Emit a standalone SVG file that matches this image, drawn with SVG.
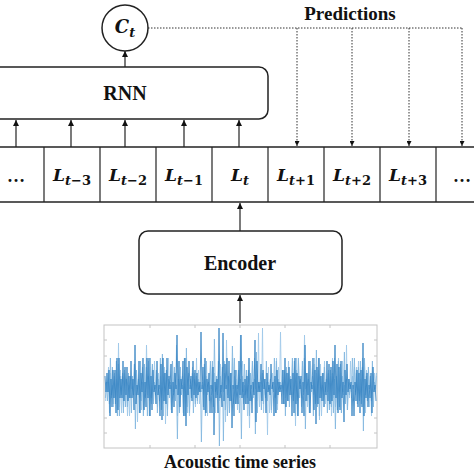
<svg xmlns="http://www.w3.org/2000/svg" width="474" height="474" viewBox="0 0 474 474">
<style>
.box{fill:#fff;stroke:#222;stroke-width:1.5}
.ln{stroke:#222;stroke-width:1.2;fill:none}
.dot{stroke:#333;stroke-width:1;stroke-dasharray:1.5 1.5;fill:none}
.lbl{font-family:"Liberation Serif",serif;font-weight:bold;fill:#111}
.math{font-family:"DejaVu Serif",serif;font-weight:bold;font-style:italic;fill:#111;font-size:17px}
.sub{font-size:13px}
.up{font-style:normal}
</style>
<defs>
<marker id="ah" viewBox="0 0 10 10" refX="10" refY="5" markerWidth="5" markerHeight="5" orient="auto">
<path d="M0,0 L10,5 L0,10 z" fill="#111"/>
</marker>
<polyline id="wave" fill="none" stroke-linejoin="round" points="105,376 106,392 107,373 108,392 109,370 110,416 111,379 112,407 113,370 114,398 115,370 116,413 117,358 118,410 119,358 120,398 121,379 122,398 123,361 124,401 125,367 126,395 127,367 128,401 129,376 130,398 131,361 132,398 133,379 134,410 135,345 136,404 137,385 138,395 139,361 140,413 141,373 142,392 143,358 144,410 145,382 146,407 147,358 148,398 149,358 150,416 151,376 152,410 153,370 154,392 155,385 156,404 157,361 158,395 159,385 160,416 161,364 162,420 163,358 164,401 165,373 166,404 167,358 168,395 169,376 170,389 171,364 172,413 173,382 174,407 175,373 176,389 177,335 178,395 179,361 180,407 181,379 182,389 183,361 184,416 185,358 186,426 187,367 188,395 189,361 190,389 191,376 192,401 193,361 194,395 195,370 196,398 197,373 198,395 199,382 200,392 201,332 202,389 203,367 204,410 205,358 206,413 207,379 208,392 209,373 210,413 211,385 212,413 213,367 214,435 215,382 216,398 217,379 218,413 219,328 220,398 221,385 222,407 223,333 224,401 225,364 226,389 227,358 228,398 229,361 230,401 231,373 232,428 233,385 234,416 235,370 236,404 237,385 238,404 239,361 240,395 241,335 242,398 243,382 244,410 245,379 246,404 247,376 248,404 249,358 250,401 251,385 252,413 253,382 254,395 255,340 256,422 257,361 258,392 259,382 260,392 261,364 262,401 263,370 264,389 265,379 266,413 267,373 268,392 269,385 270,395 271,364 272,389 273,382 274,416 275,376 276,413 277,370 278,395 279,382 280,392 281,385 282,404 283,370 284,404 285,358 286,407 287,373 288,401 289,367 290,395 291,379 292,416 293,373 294,413 295,358 296,404 297,373 298,416 299,376 300,389 301,376 302,413 303,382 304,416 305,345 306,401 307,373 308,395 309,361 310,413 311,382 312,389 313,358 314,410 315,370 316,424 317,367 318,404 319,358 320,398 321,376 322,401 323,373 324,407 325,382 326,395 327,361 328,401 329,364 330,404 331,367 332,401 333,361 334,395 335,345 336,398 337,364 338,413 339,367 340,410 341,361 342,398 343,382 344,422 345,370 346,395 347,364 348,392 349,379 350,389 351,382 352,416 353,385 354,416 355,382 356,401 357,370 358,407 359,373 360,413 361,370 362,407 363,343 364,416 365,379 366,398 367,373 368,407 369,385 370,398 371,373 372,413 373,367 374,392 375,385 376,401"/>
</defs>
<rect width="474" height="474" fill="#fff"/>

<g id="connectors">
<line class="ln" x1="125" y1="67" x2="125" y2="51" marker-end="url(#ah)"/>
<line class="ln" x1="16" y1="147" x2="16" y2="120" marker-end="url(#ah)"/>
<line class="ln" x1="71" y1="147" x2="71" y2="120" marker-end="url(#ah)"/>
<line class="ln" x1="125" y1="147" x2="125" y2="120" marker-end="url(#ah)"/>
<line class="ln" x1="184" y1="147" x2="184" y2="120" marker-end="url(#ah)"/>
<line class="ln" x1="239" y1="147" x2="239" y2="120" marker-end="url(#ah)"/>
<line class="ln" x1="240" y1="231" x2="240" y2="203" marker-end="url(#ah)"/>
<line class="ln" x1="240" y1="323" x2="240" y2="295" marker-end="url(#ah)"/>
<path class="dot" d="M148,28 H462"/>
<line class="dot" x1="297" y1="28" x2="297" y2="146" marker-end="url(#ah)"/>
<line class="dot" x1="352" y1="28" x2="352" y2="146" marker-end="url(#ah)"/>
<line class="dot" x1="409" y1="28" x2="409" y2="146" marker-end="url(#ah)"/>
<line class="dot" x1="462" y1="28" x2="462" y2="146" marker-end="url(#ah)"/>
</g>

<g id="ct">
<circle cx="125" cy="28" r="23" class="box"/>
<text class="math" x="125" y="33" text-anchor="middle" style="font-size:18px">C<tspan class="sub" dy="4">t</tspan></text>
</g>

<g id="predictions">
<text class="lbl" x="350" y="20" font-size="19" text-anchor="middle">Predictions</text>
</g>

<g id="rnn">
<rect class="box" x="-20" y="67" width="288" height="52" rx="9"/>
<text class="lbl" x="125" y="100" font-size="20" text-anchor="middle">RNN</text>
</g>

<g id="sequence">
<line class="ln" x1="0" y1="147" x2="474" y2="147" style="stroke-width:1.5"/>
<line class="ln" x1="0" y1="202" x2="474" y2="202" style="stroke-width:1.5"/>
<line class="ln" x1="44" y1="147" x2="44" y2="202"/>
<line class="ln" x1="100" y1="147" x2="100" y2="202"/>
<line class="ln" x1="156" y1="147" x2="156" y2="202"/>
<line class="ln" x1="212" y1="147" x2="212" y2="202"/>
<line class="ln" x1="268" y1="147" x2="268" y2="202"/>
<line class="ln" x1="324" y1="147" x2="324" y2="202"/>
<line class="ln" x1="380" y1="147" x2="380" y2="202"/>
<line class="ln" x1="436" y1="147" x2="436" y2="202"/>
<text class="lbl" x="16" y="182" font-size="18" text-anchor="middle">…</text>
<text class="math" x="72" y="181" text-anchor="middle">L<tspan class="sub" dy="4">t<tspan class="up">−3</tspan></tspan></text>
<text class="math" x="128" y="181" text-anchor="middle">L<tspan class="sub" dy="4">t<tspan class="up">−2</tspan></tspan></text>
<text class="math" x="184" y="181" text-anchor="middle">L<tspan class="sub" dy="4">t<tspan class="up">−1</tspan></tspan></text>
<text class="math" x="240" y="181" text-anchor="middle">L<tspan class="sub" dy="4">t</tspan></text>
<text class="math" x="296" y="181" text-anchor="middle">L<tspan class="sub" dy="4">t<tspan class="up">+1</tspan></tspan></text>
<text class="math" x="352" y="181" text-anchor="middle">L<tspan class="sub" dy="4">t<tspan class="up">+2</tspan></tspan></text>
<text class="math" x="408" y="181" text-anchor="middle">L<tspan class="sub" dy="4">t<tspan class="up">+3</tspan></tspan></text>
<text class="lbl" x="462" y="182" font-size="18" text-anchor="middle">…</text>
</g>

<g id="encoder">
<rect class="box" x="139" y="231" width="203" height="63" rx="9"/>
<text class="lbl" x="240" y="270" font-size="20" text-anchor="middle">Encoder</text>
</g>

<g id="signal">
<rect x="104" y="325" width="273" height="123" fill="#fff" stroke="#c4c4c4" stroke-width="1"/>
<path stroke="#c4c4c4" stroke-width="1" d="M150,325v3M195,325v3M240,325v3M285,325v3M330,325v3M150,448v-3M195,448v-3M240,448v-3M285,448v-3M330,448v-3M104,340h3M104,356h3M104,418h3M104,433h3M377,340h-3M377,356h-3M377,418h-3M377,433h-3"/>
<use href="#wave" stroke="#9cc7e8" stroke-width="0.8" transform="translate(481.5,0) scale(-1,1)"/>
<use href="#wave" stroke="#7fb5de" stroke-width="0.8" transform="translate(0.4,774) scale(1,-1)"/>
<use href="#wave" stroke="#2f7fc0" stroke-width="0.8"/>
<text class="lbl" x="240" y="468" font-size="18" text-anchor="middle">Acoustic time series</text>
</g>
</svg>
